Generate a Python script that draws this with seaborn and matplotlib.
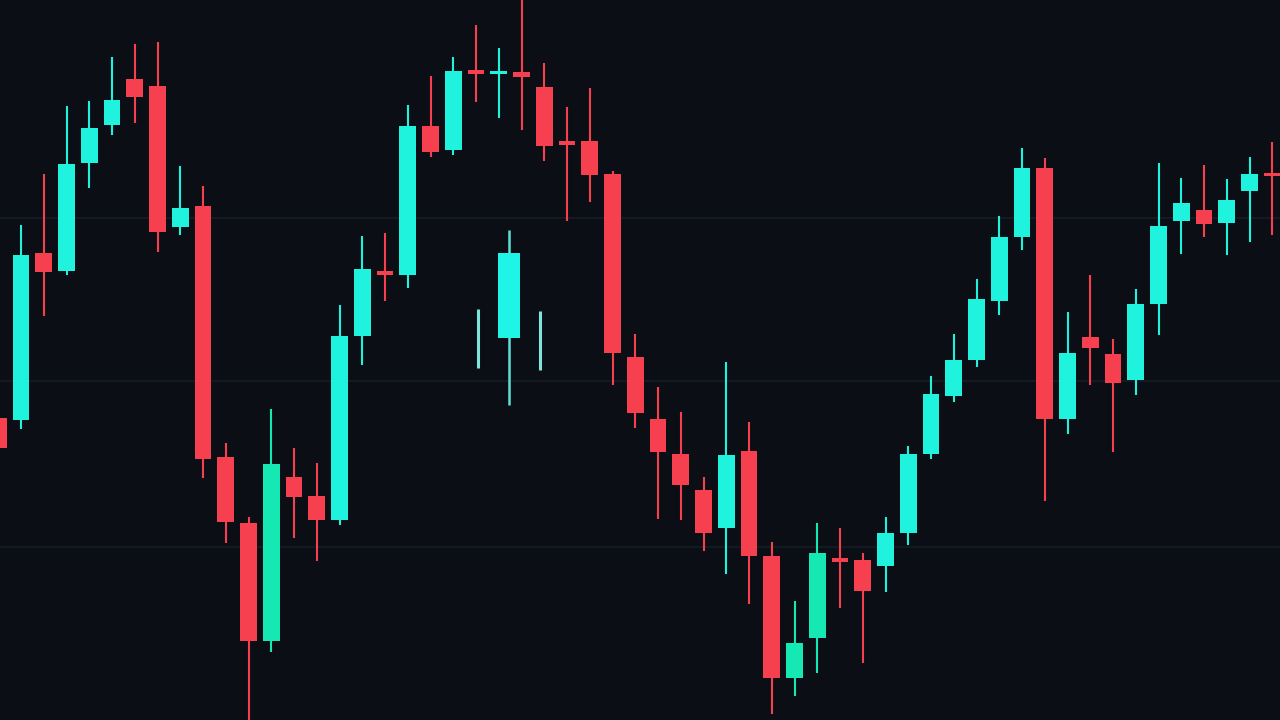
import numpy as np
import pandas as pd
import matplotlib
matplotlib.use("Agg")
import matplotlib.pyplot as plt
import seaborn as sns

# OHLC values (price units = pixels above bottom)
opens = [302, 300, 467, 449, 557, 595, 641, 634, 493, 514, 263, 197, 79, 243, 224, 200,
         384, 449, 445, 594, 570, 650, 647, 648, 633, 579, 579, 546, 363, 301, 266, 230,
         192, 269, 164, 42, 82, 162, 160, 154, 187, 266, 324, 360, 419, 483, 552, 301,
         383, 366, 340, 416, 499, 510, 497, 529, 547]
closes = [272, 465, 448, 556, 592, 620, 623, 488, 512, 261, 198, 79, 256, 223, 200, 384,
          451, 445, 594, 568, 649, 646, 649, 643, 574, 575, 545, 367, 307, 268, 235, 187,
          265, 164, 42, 77, 167, 158, 129, 187, 266, 326, 360, 421, 483, 552, 301, 367,
          372, 337, 416, 494, 517, 496, 520, 546, 544]
highs = [341, 495, 546, 614, 619, 663, 676, 678, 554, 534, 277, 203, 311, 272, 257, 415,
         484, 487, 615, 644, 663, 695, 672, 725, 657, 613, 632, 549, 386, 333, 308, 243,
         358, 298, 178, 119, 197, 192, 167, 203, 274, 344, 386, 441, 504, 572, 562, 408,
         445, 381, 431, 557, 542, 555, 541, 563, 578]
lows = [262, 291, 404, 445, 532, 585, 597, 468, 485, 242, 177, -10, 68, 182, 159, 195,
        355, 419, 432, 563, 565, 618, 602, 590, 559, 499, 518, 335, 292, 201, 200, 169,
        146, 116, 6, 24, 47, 112, 57, 128, 175, 261, 318, 353, 405, 470, 219, 286,
        335, 268, 325, 385, 466, 483, 465, 478, 485]

# floating candle icon in the middle of the chart
icon_x = [22.45]
icon_open, icon_close, icon_high, icon_low = [382], [467], [490], [315]
icon_bars_x = [21.1, 23.8]
icon_bars_lo = [352, 350]
icon_bars_hi = [411, 409]

grid_levels = [173, 339, 502]

df = pd.DataFrame({"open": opens, "close": closes, "high": highs, "low": lows})
df["idx"] = np.arange(len(df))

bg = "#0b0f15"
up_col = "#1ff3dd"
up_green = "#16e8b3"
down_col = "#f7404f"
greener = {12, 35, 36}

sns.set_style("dark", {"axes.facecolor": bg, "figure.facecolor": bg})

fig = plt.figure(figsize=(12.8, 7.2), dpi=100)
ax = fig.add_axes([0, 0, 1, 1])
ax.set_facecolor(bg)

for y in grid_levels:
    ax.axhline(y, color="#171d25", lw=1.2, zorder=0)

body_w = 0.74
for _, r in df.iterrows():
    up = r["close"] >= r["open"]
    c = (up_green if int(r["idx"]) in greener else up_col) if up else down_col
    ax.vlines(r["idx"], r["low"], r["high"], color=c, lw=1.5, zorder=2)
    bottom = min(r["open"], r["close"])
    h = max(abs(r["close"] - r["open"]), 3)
    ax.bar(r["idx"], h, bottom=bottom - (h - abs(r["close"] - r["open"])) / 2,
           width=body_w, color=c, edgecolor="none", zorder=3)

# the floating icon
ax.vlines(icon_x, icon_low, icon_high, color="#5fe0d6", lw=1.8, zorder=4)
ax.bar(icon_x, [icon_close[0] - icon_open[0]], bottom=icon_open, width=1.0,
       color="#1ff5e6", edgecolor="none", zorder=5)
ax.vlines(icon_bars_x, icon_bars_lo, icon_bars_hi, color="#7fe4dc", lw=2.2, zorder=4)

px = 22.75
ax.set_xlim(1 - 21 / px, 1 + 1259 / px)
ax.set_ylim(0, 720)
ax.set_xticks([])
ax.set_yticks([])
for s in ax.spines.values():
    s.set_visible(False)

fig.savefig("out.png", dpi=100, facecolor=bg)
